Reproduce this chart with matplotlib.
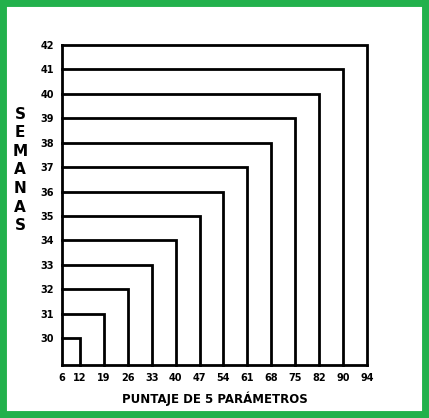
import matplotlib.pyplot as plt
from matplotlib.patches import Rectangle

weeks = [30, 31, 32, 33, 34, 35, 36, 37, 38, 39, 40, 41, 42]
scores = [12, 19, 26, 33, 40, 47, 54, 61, 68, 75, 82, 90, 94]
x_labels = [6, 12, 19, 26, 33, 40, 47, 54, 61, 68, 75, 82, 90, 94]
# tick spacing on the original is uneven at the start (6 -> 12 is narrower)
x_pos = [0, 0.75] + [0.75 + i for i in range(1, 13)]
pos_of = dict(zip(x_labels, x_pos))

fig = plt.figure(figsize=(4.29, 4.18), dpi=100)
fig.patches.append(Rectangle((0, 0), 1, 1, transform=fig.transFigure,
                             fill=False, edgecolor='#22b14c', linewidth=10))
ax = fig.add_axes([62 / 429, 53 / 418, 305 / 429, 320 / 418])

y0 = 28.9
for w, s in zip(weeks, scores):
    xe = pos_of[s]
    ax.plot([0, xe, xe], [w, w, y0], color='black', linewidth=2, clip_on=False,
            solid_joinstyle='miter')

ax.set_xlim(0, 12.75)
ax.set_ylim(y0, 42)
ax.set_xticks(x_pos)
ax.set_xticklabels(x_labels, fontsize=7, fontweight='bold')
ax.set_yticks(weeks)
ax.set_yticklabels(weeks, fontsize=7, fontweight='bold')
ax.tick_params(length=0, pad=6)
for side in ['top', 'right']:
    ax.spines[side].set_visible(False)
for side in ['left', 'bottom']:
    ax.spines[side].set_linewidth(2)

ax.set_xlabel('PUNTAJE DE 5 PARÁMETROS', fontsize=8.5, fontweight='bold', labelpad=6)
fig.text(20 / 429, 1 - 170 / 418, '\n'.join('SEMANAS'), ha='center', va='center',
         fontsize=11, fontweight='bold', linespacing=1.3)

fig.savefig('out.png', dpi=100)
